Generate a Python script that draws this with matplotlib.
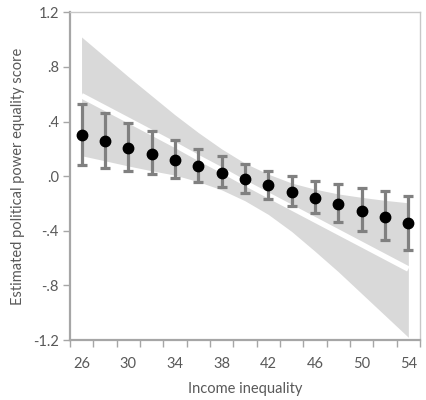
import matplotlib
matplotlib.use("Agg")
import matplotlib.pyplot as plt
from matplotlib.ticker import FixedLocator, FuncFormatter

# income inequality categories
inequality = [26, 28, 30, 32, 34, 36, 38, 40, 42, 44, 46, 48, 50, 52, 54]

# point estimates with their interval ends
estimate = [0.304, 0.257, 0.206, 0.165, 0.12, 0.076, 0.022, -0.019, -0.061,
            -0.118, -0.159, -0.203, -0.257, -0.30, -0.343]
est_upper = [0.532, 0.466, 0.393, 0.329, 0.262, 0.199, 0.145, 0.091, 0.037,
             0.005, -0.037, -0.056, -0.085, -0.11, -0.142]
est_lower = [0.084, 0.059, 0.04, 0.015, -0.015, -0.044, -0.081, -0.122, -0.166,
             -0.215, -0.272, -0.333, -0.40, -0.465, -0.54]

# fitted line and its confidence band
fit_line = [0.59, 0.50, 0.41, 0.32, 0.23, 0.135, 0.045, -0.05, -0.14,
            -0.23, -0.32, -0.41, -0.50, -0.59, -0.68]
band_upper = [1.02, 0.875, 0.73, 0.59, 0.45, 0.32, 0.20, 0.095, 0.015,
              -0.05, -0.095, -0.13, -0.155, -0.177, -0.195]
band_lower = [0.15, 0.113, 0.075, 0.04, 0.008, -0.04, -0.10, -0.18, -0.28,
              -0.405, -0.55, -0.70, -0.86, -1.02, -1.18]

x_labels = [26, 30, 34, 38, 42, 46, 50, 54]
y_ticks = [-1.2, -0.8, -0.4, 0.0, 0.4, 0.8, 1.2]

plt.rcParams['font.family'] = ['Lato', 'DejaVu Sans']
text_color = '#595959'

fig = plt.figure(figsize=(4.26, 4.0), dpi=100)
ax = fig.add_axes([0.164, 0.15, 0.822, 0.819])

ax.fill_between(inequality, band_lower, band_upper, color='#d9d9d9', lw=0, zorder=1)
ax.plot(inequality, fit_line, color='white', lw=4.0, zorder=2, solid_capstyle='butt')

yerr = [[e - l for e, l in zip(estimate, est_lower)],
        [u - e for e, u in zip(estimate, est_upper)]]
ax.errorbar(inequality, estimate, yerr=yerr, fmt='o', color='black', ms=7.5,
            ecolor='#808080', elinewidth=2.3, capsize=3.6, capthick=2.3, zorder=3)

ax.set_xlim(25, 55)
ax.set_ylim(-1.2, 1.2)

ax.xaxis.set_major_locator(FixedLocator(x_labels))
ax.xaxis.set_minor_locator(FixedLocator(list(range(25, 56, 2))))
ax.tick_params(axis='x', which='major', length=0, pad=12, labelsize=10.5, labelcolor=text_color)
ax.tick_params(axis='x', which='minor', length=5, width=1, color='#a6a6a6', direction='out')

ax.yaxis.set_major_locator(FixedLocator(y_ticks))

def fmt(v, pos):
    s = '%.1f' % v
    s = s.replace('0.', '.')
    if s == '-.0':
        s = '.0'
    return s

ax.yaxis.set_major_formatter(FuncFormatter(fmt))
ax.tick_params(axis='y', length=5, width=1, color='#a6a6a6', labelsize=10.5,
               labelcolor=text_color, pad=3)

for side in ['top', 'right']:
    ax.spines[side].set_color('#c8c8c8')
    ax.spines[side].set_linewidth(1)
for side in ['left', 'bottom']:
    ax.spines[side].set_color('#a6a6a6')
    ax.spines[side].set_linewidth(1.6)

ax.set_xlabel('Income inequality', fontsize=10.5, color=text_color, labelpad=8)
ax.set_ylabel('Estimated political power equality score', fontsize=10.5,
              color=text_color, labelpad=6)

fig.savefig('out.png', dpi=100)
